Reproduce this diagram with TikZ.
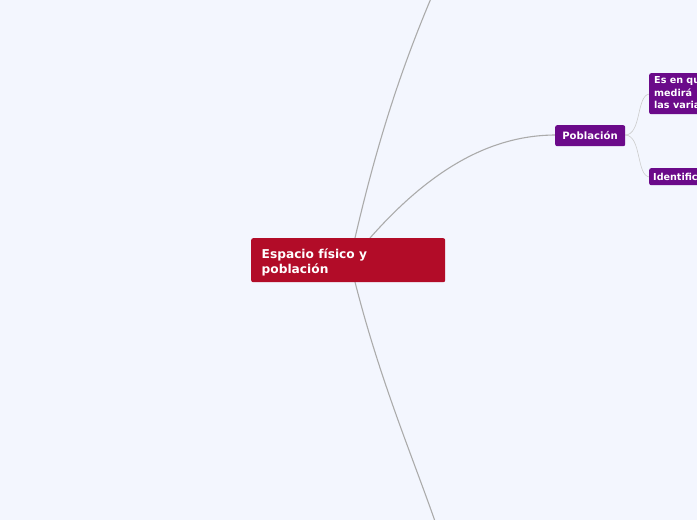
\documentclass[tikz,border=0pt]{standalone}
\usepackage{fontspec}
\setmainfont{DejaVu Sans}
\begin{document}
\begin{tikzpicture}[x=1pt,y=-1pt,
  main/.style={fill=mainred, rounded corners=2pt, text=white, font=\bfseries\fontsize{12.2}{15}\selectfont, anchor=north west, align=left, inner sep=0pt},
  sub/.style={fill=subpurple, rounded corners=2pt, text=white, font=\bfseries\fontsize{10.1}{12}\selectfont, anchor=north west, inner sep=0pt},
  leaf/.style={fill=subpurple, rounded corners=2pt, text=white, font=\bfseries\fontsize{9.6}{12.3}\selectfont, anchor=north west, align=left, inner sep=0pt},
  conn/.style={draw=linegray, line width=1.1pt},
  thin/.style={draw=thingray, line width=0.6pt}]
\definecolor{bg}{HTML}{F3F6FE}
\definecolor{mainred}{HTML}{B20C28}
\definecolor{subpurple}{HTML}{6B0A8A}
\definecolor{linegray}{HTML}{ABABAB}
\definecolor{thingray}{HTML}{CCCCCC}
\fill[bg] (0,0) rectangle (697,520);
\useasboundingbox (0,0) rectangle (697,520);
\clip (0,0) rectangle (697,520);
% connectors
\coordinate (topend) at (432,-4);
\coordinate (botend) at (436,524);
\draw[conn] (355,238) .. controls (380,130) and (405,60) .. (topend);
\draw[conn] (355,282) .. controls (380,380) and (410,450) .. (botend);
\draw[conn] (370,238) .. controls (430,170) and (490,135) .. (556,135);
\draw[thin] (625,135) .. controls (642,135) and (636,94) .. (650,94);
\draw[thin] (625,135) .. controls (642,135) and (636,177) .. (650,177);
% nodes
\node[main, minimum width=194pt, minimum height=44pt] (central) at (251,238) {};
\node[main, anchor=north west] at (261.5,248.5) {Espacio físico y\\población};
\node[sub, minimum width=70pt, minimum height=21pt] (pob) at (555,125) {};
\node[sub, anchor=center] at (590,135.5) {Población};
\node[leaf, minimum width=70pt, minimum height=41pt] (c1) at (649,73) {};
\node[leaf] at (654,76.5) {Es en qu\\medirá \\las varia};
\node[leaf, minimum width=70pt, minimum height=17pt] (c2) at (649,168) {};
\node[leaf, anchor=west] at (653,177) {Identific};
\end{tikzpicture}
\end{document}
